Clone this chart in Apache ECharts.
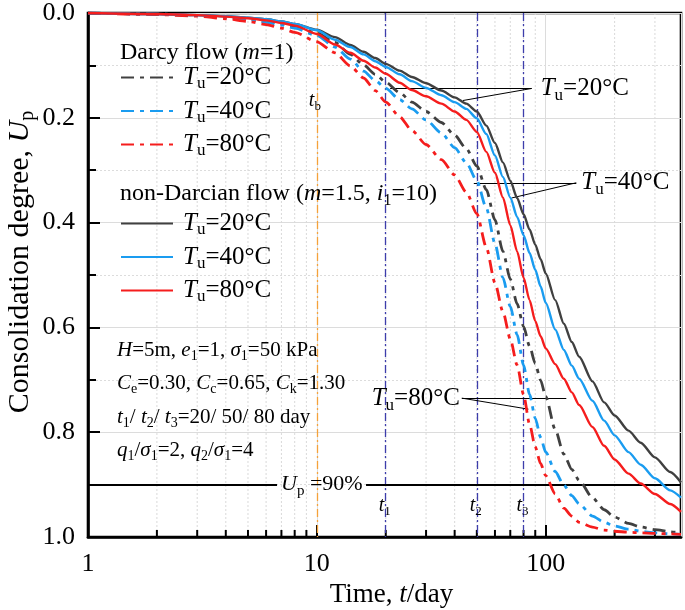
<!DOCTYPE html>
<html><head><meta charset="utf-8">
<script src="https://cdn.jsdelivr.net/npm/echarts@6/dist/echarts.min.js"></script>
<style>html,body{margin:0;padding:0;background:#fff;overflow:hidden}#c{width:685px;height:610px}</style>
</head><body><div id="c"></div>
<script>
// ---- data (t in days, U = consolidation degree) ----
const times = [1,2,3,4,5,6,7,8,10,12,14,16,18,20,23,26,30,35,40,45,50,55,60,65,70,75,80,85,90,95,100,110,120,130,140,160,180,200,230,260,300,350,390];
const darcy20 = [0,0.002,0.005,0.008,0.012,0.016,0.021,0.026,0.038,0.056,0.079,0.099,0.117,0.132,0.152,0.170,0.188,0.209,0.233,0.259,0.292,0.337,0.395,0.455,0.508,0.555,0.598,0.636,0.669,0.701,0.732,0.795,0.842,0.871,0.892,0.925,0.948,0.962,0.974,0.981,0.986,0.990,0.992];
const darcy40 = [0,0.002,0.005,0.009,0.013,0.018,0.023,0.029,0.043,0.065,0.088,0.111,0.129,0.144,0.165,0.183,0.204,0.229,0.257,0.286,0.320,0.372,0.440,0.505,0.560,0.614,0.672,0.728,0.773,0.810,0.838,0.875,0.901,0.921,0.937,0.960,0.972,0.979,0.985,0.989,0.992,0.994,0.995];
const darcy80 = [0,0.003,0.006,0.011,0.016,0.022,0.029,0.037,0.055,0.076,0.101,0.124,0.148,0.170,0.198,0.224,0.251,0.280,0.309,0.342,0.383,0.447,0.515,0.570,0.622,0.672,0.728,0.785,0.828,0.860,0.883,0.918,0.945,0.960,0.972,0.981,0.987,0.989,0.991,0.992,0.993,0.994,0.995];
const nd20 = [0,0.002,0.004,0.006,0.009,0.012,0.016,0.021,0.032,0.046,0.061,0.074,0.086,0.097,0.110,0.122,0.134,0.148,0.161,0.173,0.188,0.215,0.248,0.285,0.320,0.353,0.384,0.413,0.442,0.470,0.497,0.548,0.593,0.628,0.656,0.703,0.743,0.768,0.797,0.820,0.848,0.876,0.896];
const nd40 = [0,0.002,0.004,0.006,0.009,0.012,0.016,0.021,0.033,0.051,0.065,0.079,0.092,0.103,0.117,0.130,0.143,0.157,0.170,0.183,0.201,0.231,0.272,0.313,0.352,0.389,0.424,0.458,0.490,0.522,0.553,0.604,0.643,0.673,0.698,0.740,0.778,0.806,0.838,0.862,0.888,0.911,0.925];
const nd80 = [0,0.002,0.004,0.007,0.010,0.014,0.019,0.024,0.040,0.060,0.076,0.091,0.104,0.116,0.133,0.147,0.159,0.173,0.188,0.204,0.227,0.265,0.305,0.352,0.405,0.455,0.505,0.548,0.588,0.617,0.640,0.670,0.698,0.724,0.748,0.790,0.826,0.852,0.879,0.898,0.918,0.937,0.952];
const seriesNames = ['D20','D40','D80','N20','N40','N80'];
const tempLabels = ['20','40','80','20','40','80'];
const xTickTimes = [1,10,100];
const minorTimes = [2,3,4,5,6,7,8,9,20,30,40,50,60,70,80,90,200,300];
const tB = 10;
const stageTimes = [20,50,80];
const upLevel = 0.9;
const upGap = [6.7,16.4];
const leader20 = [[86.8,0.144],[20.9,0.144],[43.5,0.167]];
const leader40 = [[136,0.324],[48.5,0.324],[71,0.353]];
const leader80 = [[43,0.735],[123,0.735],[84,0.756]];
const tMin = 1, tMax = 390;

// ---- helpers / styling ----
const L = Math.log10;
const FONT = 'Liberation Serif';
const BLACK = '#404040', BLUE = '#1a9cf0', RED = '#f51d1d';
const colors = [BLACK,BLUE,RED,BLACK,BLUE,RED];
function rich(size, lh){
  const sub = Math.round(size*0.66);
  return {
    n:{fontSize:size,fontFamily:FONT,color:'#000',lineHeight:lh||size+6},
    i:{fontSize:size,fontFamily:FONT,fontStyle:'italic',color:'#000',lineHeight:lh||size+6},
    s:{fontSize:sub,fontFamily:FONT,color:'#000',lineHeight:sub,verticalAlign:'bottom'}
  };
}
const dashDot = [13,6,4,6];
const datasets = [darcy20,darcy40,darcy80,nd20,nd40,nd80];

const chart = echarts.init(document.getElementById('c'));
const series = datasets.map((vals,k)=>({
  name: seriesNames[k], type:'line', data: times.map((t,j)=>[L(t),vals[j]]),
  showSymbol:false, symbol:'none', smooth:0.25, smoothMonotone:'x', z:5,
  lineStyle:{color:colors[k], width: k<3?2.8:2.4, type: k<3?dashDot:'solid'},
  itemStyle:{color:colors[k]}
}));
const P = (c)=>[L(c[0]),c[1]];
const lineSeg = (a,b,style)=>[{coord:P(a),lineStyle:style},{coord:P(b)}];
const leaderStyle = {color:'#000',width:1,type:'solid'};
series.push({
  name:'marks', type:'line', data:[], z:3, silent:true,
  markLine:{silent:true, symbol:['none','none'], animation:false, label:{show:false},
    data:[
      {xAxis:L(tB), lineStyle:{color:'#f5a23a',width:1.3,type:[8,3,2,3]}},
      ...stageTimes.map(t=>({xAxis:L(t), lineStyle:{color:'#3d3dab',width:1.3,type:[8,3,2,3]}})),
      lineSeg([tMin,upLevel],[upGap[0],upLevel],{color:'#000',width:2,type:'solid'}),
      lineSeg([upGap[1],upLevel],[tMax,upLevel],{color:'#000',width:2,type:'solid'}),
      lineSeg(leader20[0],leader20[1],leaderStyle), lineSeg(leader20[0],leader20[2],leaderStyle),
      lineSeg(leader40[0],leader40[1],leaderStyle), lineSeg(leader40[0],leader40[2],leaderStyle),
      lineSeg(leader80[0],leader80[1],leaderStyle), lineSeg(leader80[0],leader80[2],leaderStyle)
    ]}
});
// minor (log) ticks and dotted grid at 2..9, 20..90, 200, 300
series.push({
  type:'custom', coordinateSystem:'cartesian2d', silent:true, z:1,
  data: minorTimes.map(t=>[L(t),1]), encode:{x:0,y:1},
  renderItem:(params,api)=>{
    const x = api.value(0);
    const top = api.coord([x,0]), bot = api.coord([x,1]);
    return {type:'group',children:[
      {type:'line',shape:{x1:top[0],y1:top[1],x2:bot[0],y2:bot[1]},style:{stroke:'#d9d9d9',lineWidth:1,lineDash:[2,2]}},
      {type:'line',shape:{x1:bot[0],y1:bot[1],x2:bot[0],y2:bot[1]-7},style:{stroke:'#000',lineWidth:2}}
    ]};
  }
});

const legendCommon = {
  orient:'vertical', left:120, itemWidth:52, itemHeight:14, itemGap:6, padding:0,
  selectedMode:false, itemStyle:{opacity:0},
  formatter: name => '{i|T}{s|u}{n|=' + tempLabels[seriesNames.indexOf(name)] + '°C}',
  textStyle:{rich:rich(25,30), padding:[0,0,0,5]}
};

function txt(x,y,text,r,align,rot){
  return {type:'text', x:x, y:y, rotation:rot||0, silent:true, z:10,
    style:{text:text, rich:r, align:align||'left', verticalAlign:'middle', fill:'#000', font:'22px '+FONT}};
}

chart.setOption({
  animation:false,
  grid:{left:88,right:4,top:13,bottom:73,show:true,borderColor:'#000',borderWidth:2.6,backgroundColor:'transparent',
    containLabel:false, outerBoundsMode:'none'},
  xAxis:{type:'value',min:L(tMin),max:L(tMax),interval:1,position:'bottom',
    name:'{n|Time, }{i|t}{n|/day}', nameLocation:'middle', nameGap:38,
    nameTextStyle:{rich:rich(27), padding:[0,0,0,14]},
    axisLine:{onZero:false,lineStyle:{color:'#000',width:2.6}},
    axisTick:{inside:true,length:12,lineStyle:{color:'#000',width:2}},
    axisLabel:{fontFamily:FONT,fontSize:26,color:'#000',margin:14,showMaxLabel:false,
      formatter:v=>{ const t = Math.pow(10,v); return xTickTimes.some(x=>Math.abs(x-t)<1e-6)?String(Math.round(t)):''; }},
    splitLine:{show:true,lineStyle:{color:'#dcdcdc',width:1}}
  },
  yAxis:{type:'value',inverse:true,min:0,max:1,interval:0.2,
    axisLine:{lineStyle:{color:'#000',width:2.6}},
    axisTick:{inside:true,length:12,lineStyle:{color:'#000',width:2}},
    minorTick:{show:true,splitNumber:2,length:8,lineStyle:{color:'#000',width:2}},
    axisLabel:{fontFamily:FONT,fontSize:26,color:'#000',margin:13,formatter:v=>v.toFixed(1)},
    splitLine:{show:true,lineStyle:{color:'#dcdcdc',width:1}},
    minorSplitLine:{show:true,lineStyle:{color:'#dcdcdc',width:1,type:[2,2]}}
  },
  legend:[
    Object.assign({top:65,data:seriesNames.slice(0,3)},legendCommon),
    Object.assign({top:211,data:seriesNames.slice(3)},legendCommon)
  ],
  series:series
});

// annotations anchored to data positions
const px = (t,u)=>chart.convertToPixel({xAxisIndex:0,yAxisIndex:0},[L(t),u]);
const R24 = rich(24), R25 = rich(25), R21 = rich(21), R20 = rich(20), R22 = rich(22), R30 = rich(30);
const g = [];
g.push(txt(20,262,'{n|Consolidation degree, }{i|U}{s|p}',R30,'center',Math.PI/2));
g.push(txt(120,53,'{n|Darcy flow (}{i|m}{n|=1)}',R24));
g.push(txt(120,194,'{n|non-Darcian flow (}{i|m}{n|=1.5, }{i|i}{s|1}{n|=10)}',R24));
g.push(txt(117,350,'{i|H}{n|=5m, }{i|e}{s|1}{n|=1, }{i|σ}{s|1}{n|=50 kPa}',R21));
g.push(txt(117,383,'{i|C}{s|e}{n|=0.30, }{i|C}{s|c}{n|=0.65, }{i|C}{s|k}{n|=1.30}',R21));
g.push(txt(117,417,'{i|t}{s|1}{n|/ }{i|t}{s|2}{n|/ }{i|t}{s|3}{n|=20/ 50/ 80 day}',R21));
g.push(txt(117,450,'{i|q}{s|1}{n|/}{i|σ}{s|1}{n|=2, }{i|q}{s|2}{n|/}{i|σ}{s|1}{n|=4}',R21));
let p = px(tB,0.167); g.push(txt(p[0]-2,p[1],'{i|t}{s|b}',R20,'center'));
stageTimes.forEach((t,k)=>{ const q = px(t,0.94); g.push(txt(q[0]-1,q[1],'{i|t}{s|'+(k+1)+'}',R20,'center')); });
p = px(upGap[0],upLevel); g.push(txt(p[0]+4,p[1],'{i|U}{s|p}{n| =90%}',R22));
p = px(leader20[0][0],leader20[0][1]); g.push(txt(p[0]+9,p[1],'{i|T}{s|u}{n|=20°C}',R25));
p = px(leader40[0][0],leader40[0][1]); g.push(txt(p[0]+5,p[1],'{i|T}{s|u}{n|=40°C}',R25));
p = px(leader80[0][0],leader80[0][1]); g.push(txt(p[0]-2,p[1],'{i|T}{s|u}{n|=80°C}',R25,'right'));
chart.setOption({graphic:g});
</script></body></html>
